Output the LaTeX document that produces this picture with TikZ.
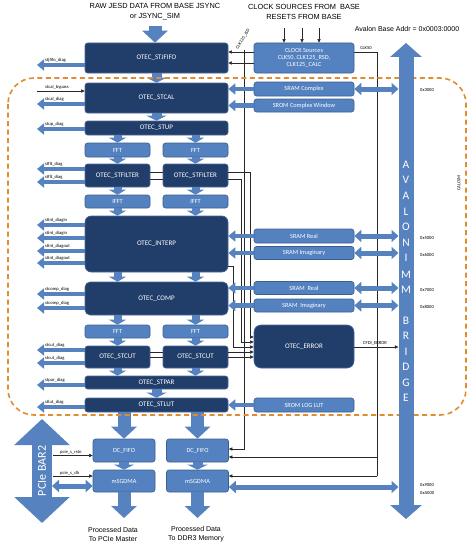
\documentclass[tikz,border=0pt]{standalone}
\usepackage{fontspec}
\setmainfont{Carlito}
\newfontfamily\arialf{Liberation Sans}
\usetikzlibrary{arrows.meta}
\definecolor{navy}{RGB}{33,61,106}
\definecolor{navyb}{RGB}{74,104,152}
\definecolor{mid}{RGB}{84,130,192}
\definecolor{midb}{RGB}{58,94,145}
\definecolor{arrc}{RGB}{86,131,191}
\definecolor{orng}{RGB}{226,140,50}
\definecolor{wirec}{RGB}{40,40,40}
\begin{document}
\begin{tikzpicture}[x=1pt,y=-1pt,
 box/.style={rounded corners=2.5pt, draw=navyb, fill=navy, text=white, line width=0.6pt,
   font=\fontsize{7}{8}\selectfont, inner sep=0pt},
 lbox/.style={box, fill=mid, draw=midb, font=\fontsize{6.3}{7}\selectfont},
 lab/.style={font=\fontsize{4.6}{5}\selectfont, text=black, inner sep=0pt},
 ttl/.style={font=\arialf\fontsize{7.4}{10}\selectfont, inner sep=0pt, align=center},
 wire/.style={draw=wirec, line width=0.6pt},
 wa/.style={wire, -{Triangle[width=3.2pt,length=3.6pt]}},
 fatbig/.style={draw=arrc, line width=13pt, -{Triangle[width=25pt,length=12pt]}},
 fatm/.style={draw=arrc, line width=10pt, -{Triangle[width=20pt,length=5pt]}},
 fats/.style={draw=arrc, line width=8pt, -{Triangle[width=17pt,length=5pt]}},
 diag/.style={draw=arrc, line width=4.5pt, -{Triangle[width=11pt,length=7pt]}},
 dbl/.style={draw=arrc, line width=5pt, {Triangle[width=12pt,length=7pt]}-{Triangle[width=12pt,length=7pt]}},
 bridge/.style={draw=arrc, line width=15pt, {Triangle[width=31pt,length=14pt]}-{Triangle[width=31pt,length=14pt]}},
 pcie/.style={draw=arrc, line width=20pt, {Triangle[width=54pt,length=26pt]}-{Triangle[width=54pt,length=26pt]}}
]
\useasboundingbox (0,0) rectangle (474,551);
\fill[white] (0,0) rectangle (474,551);

% ---------- titles ----------
\node[ttl] (t1) at (155,12) {RAW JESD DATA FROM BASE JSYNC\\or JSYNC\_SIM};
\node[ttl] (t2) at (304,12) {CLOCK SOURCES FROM~ BASE\\RESETS FROM BASE};
\node[ttl, font=\arialf\fontsize{7}{9}\selectfont] (t3) at (407,29) {Avalon Base Addr = 0x0003:0000};
\node[ttl, font=\arialf\fontsize{7}{9}\selectfont] (p1) at (113,534) {Processed Data\\To PCIe Master};
\node[ttl, font=\arialf\fontsize{7}{9}\selectfont] (p2) at (196,534) {Processed Data\\To DDR3 Memory};

% ---------- main column ----------
\node[box, minimum width=143pt, minimum height=30pt] (stjfifo) at (156.5,58) {OTEC\_STJFIFO};
\node[box, minimum width=143pt, minimum height=30pt] (stcal) at (156.5,98) {OTEC\_STCAL};
\node[box, minimum width=143pt, minimum height=14pt] (stup) at (156.5,128) {OTEC\_STUP};
\node[lbox, minimum width=65pt, minimum height=14pt] (fft1l) at (117.5,150) {FFT};
\node[lbox, minimum width=65pt, minimum height=14pt] (fft1r) at (195.5,150) {FFT};
\node[box, minimum width=65pt, minimum height=23pt] (filtl) at (117.5,175.5) {OTEC\_STFILTER};
\node[box, minimum width=65pt, minimum height=23pt] (filtr) at (195.5,175.5) {OTEC\_STFILTER};
\node[lbox, minimum width=65pt, minimum height=13pt] (ifftl) at (117.5,201.5) {IFFT};
\node[lbox, minimum width=65pt, minimum height=13pt] (ifftr) at (195.5,201.5) {IFFT};
\node[box, minimum width=143pt, minimum height=56pt, rounded corners=6pt] (interp) at (156.5,244) {OTEC\_INTERP};
\node[box, minimum width=143pt, minimum height=33pt, rounded corners=5pt] (comp) at (156.5,298.5) {OTEC\_COMP};
\node[lbox, minimum width=65pt, minimum height=13pt] (fft2l) at (117.5,331.5) {FFT};
\node[lbox, minimum width=65pt, minimum height=13pt] (fft2r) at (195.5,331.5) {FFT};
\node[box, minimum width=65pt, minimum height=22pt] (cutl) at (117.5,357) {OTEC\_STCUT};
\node[box, minimum width=65pt, minimum height=22pt] (cutr) at (195.5,357) {OTEC\_STCUT};
\node[box, minimum width=143pt, minimum height=13pt] (stpar) at (156.5,382.5) {OTEC\_STPAR};
\node[box, minimum width=143pt, minimum height=14pt] (stlut) at (156.5,405) {OTEC\_STLUT};
\node[lbox, minimum width=62pt, minimum height=23pt] (dcl) at (124,450.5) {DC\_FIFO};
\node[lbox, minimum width=62pt, minimum height=23pt] (dcr) at (197.5,450.5) {DC\_FIFO};
\node[lbox, minimum width=62pt, minimum height=22pt] (dmal) at (124,481) {mSGDMA};
\node[lbox, minimum width=62pt, minimum height=22pt] (dmar) at (197.5,481) {mSGDMA};

% ---------- right column ----------
\node[lbox, minimum width=100pt, minimum height=30pt, align=center, font=\fontsize{6.3}{7.3}\selectfont] (clock) at (304,58) {CLOCK Sources\\CLK50, CLK125\_RSD,\\CLK125\_CALC};
\node[lbox, minimum width=100pt, minimum height=14pt] (sramc) at (304,89) {SRAM Complex};
\node[lbox, minimum width=100pt, minimum height=13pt] (sromw) at (304,105.5) {SROM Complex Window};
\node[lbox, minimum width=100pt, minimum height=14pt] (sr1) at (304,236) {SRAM Real};
\node[lbox, minimum width=100pt, minimum height=13pt] (si1) at (304,253) {SRAM Imaginary};
\node[lbox, minimum width=100pt, minimum height=13pt] (sr2) at (304,288) {SRAM~ Real};
\node[lbox, minimum width=100pt, minimum height=13pt] (si2) at (304,305.5) {SRAM~ Imaginary};
\node[box, minimum width=100pt, minimum height=43pt, rounded corners=7pt] (err) at (304,346.5) {OTEC\_ERROR};
\node[lbox, minimum width=100pt, minimum height=14pt] (lut) at (304,405) {SROM LOG LUT};

% ---------- thin wires ----------
\foreach \x in {284,302,319} {
  \coordinate (ci\x) at (\x,28);
  \draw[wa] (ci\x) -- (clock.north -| ci\x);
}
\coordinate (k1) at (0,52);
\coordinate (k2) at (0,63);
\draw[wa] (clock.west|-k1) -- (stjfifo.east|-k1);
\draw[wa] (clock.west|-k2) -- (stjfifo.east|-k2);
\node[lab, rotate=58] (jsdl) at (243,39) {CLK125\_JSD};
\coordinate (jt) at (244,50);
\coordinate (r449) at (0,449);
\draw[wa] (jt) -- (jt|-r449) -- (dcr.east|-r449);
\coordinate (c50) at (377,52);
\coordinate (r457) at (0,457);
\coordinate (r476) at (0,476);
\draw[wire] (clock.east|-c50) -- (c50) -- (c50|-r476);
\draw[wa] (c50|-r476) -- (dmar.east|-r476);
\draw[wa] (c50|-r457) -- (dcr.east|-r457);
\node[lab, anchor=base] (c50l) at (366,50) {CLK50};

% error wiring
\coordinate (f1) at (0,172);
\coordinate (f2) at (0,179);
\coordinate (i1) at (0,266);
\coordinate (e1) at (0,337);
\coordinate (e2) at (0,342);
\coordinate (e3) at (0,347);
\coordinate (e4) at (0,352);
\coordinate (e5) at (0,357);
\draw[wire] (filtl.east|-f1) -- (filtr.west|-f1);
\draw[wire] (filtl.east|-f2) -- (filtr.west|-f2);
\draw[wire] (cutl.east|-e4) -- (cutr.west|-e4);
\draw[wire] (cutl.east|-e5) -- (cutr.west|-e5);
\draw[wa] (filtr.east|-f1) -- ++(22,0) |- (err.west|-e1);
\draw[wa] (filtr.east|-f2) -- ++(13,0) |- (err.west|-e2);
\draw[wa] (interp.east|-i1) -- ++(5,0) |- (err.west|-e3);
\draw[wa] (cutr.east|-e4) -- (err.west|-e4);
\draw[wa] (cutr.east|-e5) -- (err.west|-e5);
\coordinate (cf) at (0,347);
\coordinate (brx) at (398.5,0);
\draw[wa] (err.east|-cf) -- (brx|-cf);
\node[lab, anchor=base] (cfl) at (375,344) {CFDI\_ERROR};

% stcal bypass
\coordinate (byp) at (37,91);
\draw[wa] (byp) -- (stcal.west|-byp);
\node[lab, anchor=base west] (bypl) at (45,88.5) {stcal\_bypass};

% pcie side signals
\coordinate (pr) at (53,455.5);
\draw[wa] (pr) -- (dcl.west|-pr);
\node[lab, anchor=base west] (prl) at (60,453.5) {pcie\_s\_rstn};
\coordinate (pc) at (53,476);
\draw[wa] (pc) -- (dmal.west|-pc);
\node[lab, anchor=base west] (pcl2) at (60,474) {pcie\_s\_clk};

% ---------- fat arrows ----------
\coordinate (jin) at (155,26);
\draw[fatbig] (jin) -- (stjfifo.north -| jin);
\draw[fatm] (stjfifo.south) -- (stcal.north);
\draw[fatm] (stcal.south) -- (stup.north);
\draw[fatm] (stpar.south) -- (stlut.north);
\coordinate (outl) at (124,518);
\coordinate (outr) at (197.5,518);
\foreach \c in {l,r} {
  \draw[fats] (stup.south -| fft1\c) -- (fft1\c.north);
  \draw[fats] (fft1\c.south) -- (filt\c.north);
  \draw[fats] (filt\c.south) -- (ifft\c.north);
  \draw[fats] (ifft\c.south) -- (interp.north -| ifft\c);
  \draw[fats] (interp.south -| ifft\c) -- (comp.north -| ifft\c);
  \draw[fats] (comp.south -| fft2\c) -- (fft2\c.north);
  \draw[fats] (fft2\c.south) -- (cut\c.north);
  \draw[fats] (cut\c.south) -- (stpar.north -| cut\c);
  \draw[fatbig] (stlut.south -| dc\c) -- (dc\c.north);
  \draw[fatm] (dc\c.south) -- (dma\c.north);
  \draw[fatbig] (dma\c.south) -- (out\c);
}

% diag outputs on the left
\foreach \b/\y/\t in {stjfifo/65/stjfifo\_diag, stcal/104/stcal\_diag, stup/129/stup\_diag,
   filtl/169/stflt\_diag, filtl/182/stflt\_diag, interp/225/stint\_diagin, interp/238/stint\_diagin,
   interp/251/stint\_diagout, interp/263/stint\_diagout, comp/294/stcomp\_diag, comp/308/stcomp\_diag,
   cutl/350/stcut\_diag, cutl/363/stcut\_diag, stpar/385/stpar\_diag, stlut/407/stlut\_diag} {
  \coordinate (dg\y) at (37,\y);
  \draw[diag] (\b.west |- dg\y) -- (dg\y);
  \node[lab, anchor=base west] (dl\y) at (45,\y-4) {\t};
}

% memories into the pipeline
\draw[diag] (sramc.west) -- (stcal.east|-sramc.west);
\draw[diag] (sromw.west) -- (stcal.east|-sromw.west);
\draw[diag] (sr1.west) -- (interp.east|-sr1.west);
\draw[diag] (si1.west) -- (interp.east|-si1.west);
\draw[diag] (sr2.west) -- (comp.east|-sr2.west);
\draw[diag] (si2.west) -- (comp.east|-si2.west);
\draw[diag] (lut.west) -- (stlut.east|-lut.west);

% memories to the bridge
\foreach \n in {sramc,sr1,si1,sr2,si2} {
  \draw[dbl] (\n.east) -- (\n.east -| brx);
}
\coordinate (rd) at (398.5,487);
\draw[dbl] (dmar.east|-rd) -- (rd);
\coordinate (pd) at (52,486);
\draw[dbl] (pd) -- (dmal.west|-pd);

% addresses
\foreach \y/\t in {91/0x3000, 238/0x5000, 255/0x6000, 290/0x7000, 307/0x8000, 485/0x9000, 493/0xA000} {
  \node[lab, anchor=base west] (ad\y) at (420,\y+1) {\t};
}
\node[lab, rotate=90] (calc) at (459,183) {CALCSM};

% dashed region
\draw[orng, line width=1.6pt, dash pattern=on 5pt off 3.5pt, rounded corners=26pt] (8,78) rectangle (466,415);

% PCIe BAR2
\coordinate (pct) at (42,419);
\coordinate (pcb) at (42,523);
\draw[pcie] (pct) -- (pcb);
\node[rotate=90, text=white, font=\fontsize{12}{12}\selectfont, inner sep=0pt] (pcil) at (42,471) {PCIe BAR2};

% Avalon bridge
\coordinate (brt) at (406,43);
\coordinate (brb) at (406,519);
\draw[bridge] (brt) -- (brb);
\foreach \l/\y in {A/165,V/180,A/196,L/212,O/227,N/243,I/258,M/275,M/290,B/321,R/336,I/352,D/367,G/383,E/398} {
  \node[text=white, font=\fontsize{11.5}{12}\selectfont, inner sep=0pt] (bl\y) at (406,\y) {\l};
}
\end{tikzpicture}
\end{document}
